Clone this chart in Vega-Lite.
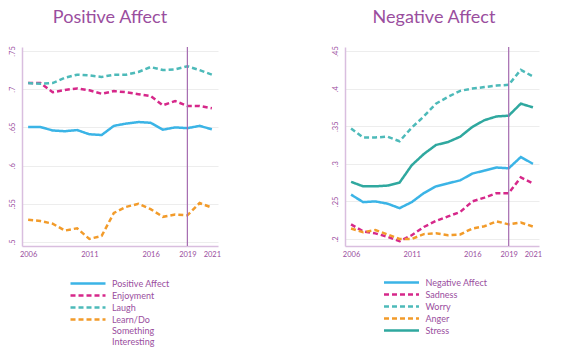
{
  "$schema": "https://vega.github.io/schema/vega-lite/v6.json",
  "background": "white",
  "padding": {"left": 7, "top": 8, "right": 0, "bottom": 0},
  "config": {
    "view": {"stroke": null},
    "font": "Lato",
    "axis": {
      "labelFont": "Lato",
      "labelFontSize": 7.5,
      "labelColor": "#9A4E9E",
      "domainColor": "#D9BEDF",
      "domainWidth": 1.5,
      "ticks": false,
      "title": null
    },
    "axisX": {"grid": false, "labelPadding": 4},
    "axisY": {"grid": true, "gridColor": "#EDEDED", "labelAngle": -90, "labelPadding": 6},
    "legend": {
      "orient": "none",
      "title": null,
      "labelFont": "Lato",
      "labelFontSize": 9,
      "labelColor": "#9A4E9E",
      "symbolType": "M-3.5,0H3.5",
      "symbolSize": 100,
      "symbolStrokeWidth": 2.5,
      "labelOffset": 17.5,
      "rowPadding": 0
    },
    "title": {"font": "Lato", "fontSize": 18, "fontWeight": "normal", "color": "#9A4E9E", "anchor": "middle"}
  },
  "resolve": {
    "scale": {"color": "independent", "strokeDash": "independent"},
    "legend": {"color": "independent", "strokeDash": "independent"}
  },
  "spacing": 110,
  "hconcat": [
    {
      "width": 196,
      "height": 199,
      "title": {"text": "Positive Affect", "dx": -10, "offset": 19},
      "layer": [
        {
          "data": {"values": [
            {"year": 2006, "Positive Affect": 0.6505, "Enjoyment": 0.708, "Laugh": 0.708, "Learn/Do Something Interesting": 0.529},
            {"year": 2007, "Positive Affect": 0.6505, "Enjoyment": 0.708, "Laugh": 0.707, "Learn/Do Something Interesting": 0.5275},
            {"year": 2008, "Positive Affect": 0.646, "Enjoyment": 0.696, "Laugh": 0.708, "Learn/Do Something Interesting": 0.524},
            {"year": 2009, "Positive Affect": 0.645, "Enjoyment": 0.699, "Laugh": 0.715, "Learn/Do Something Interesting": 0.515},
            {"year": 2010, "Positive Affect": 0.6465, "Enjoyment": 0.701, "Laugh": 0.719, "Learn/Do Something Interesting": 0.518},
            {"year": 2011, "Positive Affect": 0.641, "Enjoyment": 0.6985, "Laugh": 0.718, "Learn/Do Something Interesting": 0.504},
            {"year": 2012, "Positive Affect": 0.640, "Enjoyment": 0.694, "Laugh": 0.716, "Learn/Do Something Interesting": 0.508},
            {"year": 2013, "Positive Affect": 0.652, "Enjoyment": 0.6975, "Laugh": 0.719, "Learn/Do Something Interesting": 0.538},
            {"year": 2014, "Positive Affect": 0.655, "Enjoyment": 0.696, "Laugh": 0.719, "Learn/Do Something Interesting": 0.546},
            {"year": 2015, "Positive Affect": 0.657, "Enjoyment": 0.6935, "Laugh": 0.7225, "Learn/Do Something Interesting": 0.550},
            {"year": 2016, "Positive Affect": 0.656, "Enjoyment": 0.691, "Laugh": 0.729, "Learn/Do Something Interesting": 0.543},
            {"year": 2017, "Positive Affect": 0.647, "Enjoyment": 0.679, "Laugh": 0.725, "Learn/Do Something Interesting": 0.533},
            {"year": 2018, "Positive Affect": 0.650, "Enjoyment": 0.6845, "Laugh": 0.726, "Learn/Do Something Interesting": 0.536},
            {"year": 2019, "Positive Affect": 0.649, "Enjoyment": 0.678, "Laugh": 0.730, "Learn/Do Something Interesting": 0.535},
            {"year": 2020, "Positive Affect": 0.652, "Enjoyment": 0.678, "Laugh": 0.725, "Learn/Do Something Interesting": 0.551},
            {"year": 2021, "Positive Affect": 0.6475, "Enjoyment": 0.675, "Laugh": 0.719, "Learn/Do Something Interesting": 0.545}
          ]},
          "transform": [{"fold": ["Positive Affect", "Enjoyment", "Laugh", "Learn/Do Something Interesting"], "as": ["series", "value"]}],
          "mark": {"type": "line", "strokeWidth": 2.5},
          "encoding": {
            "x": {"field": "year", "type": "quantitative", "scale": {"domain": [2005.5, 2021.5], "nice": false}, "axis": {"values": [2006, 2011, 2016, 2019, 2021], "format": "d"}},
            "y": {"field": "value", "type": "quantitative", "scale": {"domain": [0.4948, 0.7552], "nice": false, "zero": false}, "axis": {"values": [0.5, 0.55, 0.6, 0.65, 0.7, 0.75], "labelExpr": "replace(format(datum.value,'.2~f'),'0.','.')"}},
            "color": {"field": "series", "type": "nominal",
              "scale": {"domain": ["Positive Affect", "Enjoyment", "Laugh", "Learn/Do Something Interesting"], "range": ["#3BB4E6", "#D6288A", "#4DBAB9", "#F29B2A"]},
              "legend": {"legendX": 59.5, "legendY": 230, "labelExpr": "datum.label == 'Learn/Do Something Interesting' ? ['Learn/Do','Something','Interesting'] : datum.label"}},
            "strokeDash": {"field": "series", "type": "nominal",
              "scale": {"domain": ["Positive Affect", "Enjoyment", "Laugh", "Learn/Do Something Interesting"], "range": [[1, 0], [5, 3], [5, 3], [5, 3]]},
              "legend": {"legendX": 59.5, "legendY": 230, "labelExpr": "datum.label == 'Learn/Do Something Interesting' ? ['Learn/Do','Something','Interesting'] : datum.label"}}
          }
        },
        {
          "data": {"values": [{"year": 2019}]},
          "mark": {"type": "rule", "color": "#A56BB0", "strokeWidth": 1.2},
          "encoding": {"x": {"field": "year", "type": "quantitative"}}
        }
      ]
    },
    {
      "width": 194,
      "height": 199,
      "title": {"text": "Negative Affect", "dx": -8, "offset": 19},
      "layer": [
        {
          "data": {"values": [
            {"year": 2006, "Negative Affect": 0.259, "Sadness": 0.2195, "Worry": 0.347, "Anger": 0.214, "Stress": 0.276},
            {"year": 2007, "Negative Affect": 0.249, "Sadness": 0.210, "Worry": 0.335, "Anger": 0.209, "Stress": 0.270},
            {"year": 2008, "Negative Affect": 0.250, "Sadness": 0.2075, "Worry": 0.335, "Anger": 0.212, "Stress": 0.270},
            {"year": 2009, "Negative Affect": 0.247, "Sadness": 0.203, "Worry": 0.336, "Anger": 0.206, "Stress": 0.271},
            {"year": 2010, "Negative Affect": 0.241, "Sadness": 0.197, "Worry": 0.330, "Anger": 0.200, "Stress": 0.275},
            {"year": 2011, "Negative Affect": 0.249, "Sadness": 0.205, "Worry": 0.348, "Anger": 0.200, "Stress": 0.298},
            {"year": 2012, "Negative Affect": 0.261, "Sadness": 0.216, "Worry": 0.363, "Anger": 0.2065, "Stress": 0.313},
            {"year": 2013, "Negative Affect": 0.270, "Sadness": 0.224, "Worry": 0.380, "Anger": 0.2075, "Stress": 0.325},
            {"year": 2014, "Negative Affect": 0.274, "Sadness": 0.230, "Worry": 0.389, "Anger": 0.205, "Stress": 0.329},
            {"year": 2015, "Negative Affect": 0.278, "Sadness": 0.236, "Worry": 0.397, "Anger": 0.206, "Stress": 0.336},
            {"year": 2016, "Negative Affect": 0.287, "Sadness": 0.250, "Worry": 0.400, "Anger": 0.214, "Stress": 0.349},
            {"year": 2017, "Negative Affect": 0.291, "Sadness": 0.255, "Worry": 0.402, "Anger": 0.217, "Stress": 0.358},
            {"year": 2018, "Negative Affect": 0.295, "Sadness": 0.261, "Worry": 0.404, "Anger": 0.2235, "Stress": 0.363},
            {"year": 2019, "Negative Affect": 0.294, "Sadness": 0.261, "Worry": 0.405, "Anger": 0.2195, "Stress": 0.364},
            {"year": 2020, "Negative Affect": 0.309, "Sadness": 0.282, "Worry": 0.425, "Anger": 0.222, "Stress": 0.380},
            {"year": 2021, "Negative Affect": 0.300, "Sadness": 0.274, "Worry": 0.416, "Anger": 0.2165, "Stress": 0.375}
          ]},
          "transform": [{"fold": ["Negative Affect", "Sadness", "Worry", "Anger", "Stress"], "as": ["series", "value"]}],
          "mark": {"type": "line", "strokeWidth": 2.5},
          "encoding": {
            "x": {"field": "year", "type": "quantitative", "scale": {"domain": [2005.5, 2021.5], "nice": false}, "axis": {"values": [2006, 2011, 2016, 2019, 2021], "format": "d"}},
            "y": {"field": "value", "type": "quantitative", "scale": {"domain": [0.1907, 0.4553], "nice": false, "zero": false}, "axis": {"values": [0.2, 0.25, 0.3, 0.35, 0.4, 0.45], "labelExpr": "replace(format(datum.value,'.2~f'),'0.','.')"}},
            "color": {"field": "series", "type": "nominal",
              "scale": {"domain": ["Negative Affect", "Sadness", "Worry", "Anger", "Stress"], "range": ["#3BB4E6", "#D6288A", "#4DBAB9", "#F29B2A", "#2FA89F"]},
              "legend": {"legendX": 50, "legendY": 229}},
            "strokeDash": {"field": "series", "type": "nominal",
              "scale": {"domain": ["Negative Affect", "Sadness", "Worry", "Anger", "Stress"], "range": [[1, 0], [5, 3], [5, 3], [5, 3], [1, 0]]},
              "legend": {"legendX": 50, "legendY": 229}}
          }
        },
        {
          "data": {"values": [{"year": 2019}]},
          "mark": {"type": "rule", "color": "#A56BB0", "strokeWidth": 1.2},
          "encoding": {"x": {"field": "year", "type": "quantitative"}}
        }
      ]
    }
  ]
}
